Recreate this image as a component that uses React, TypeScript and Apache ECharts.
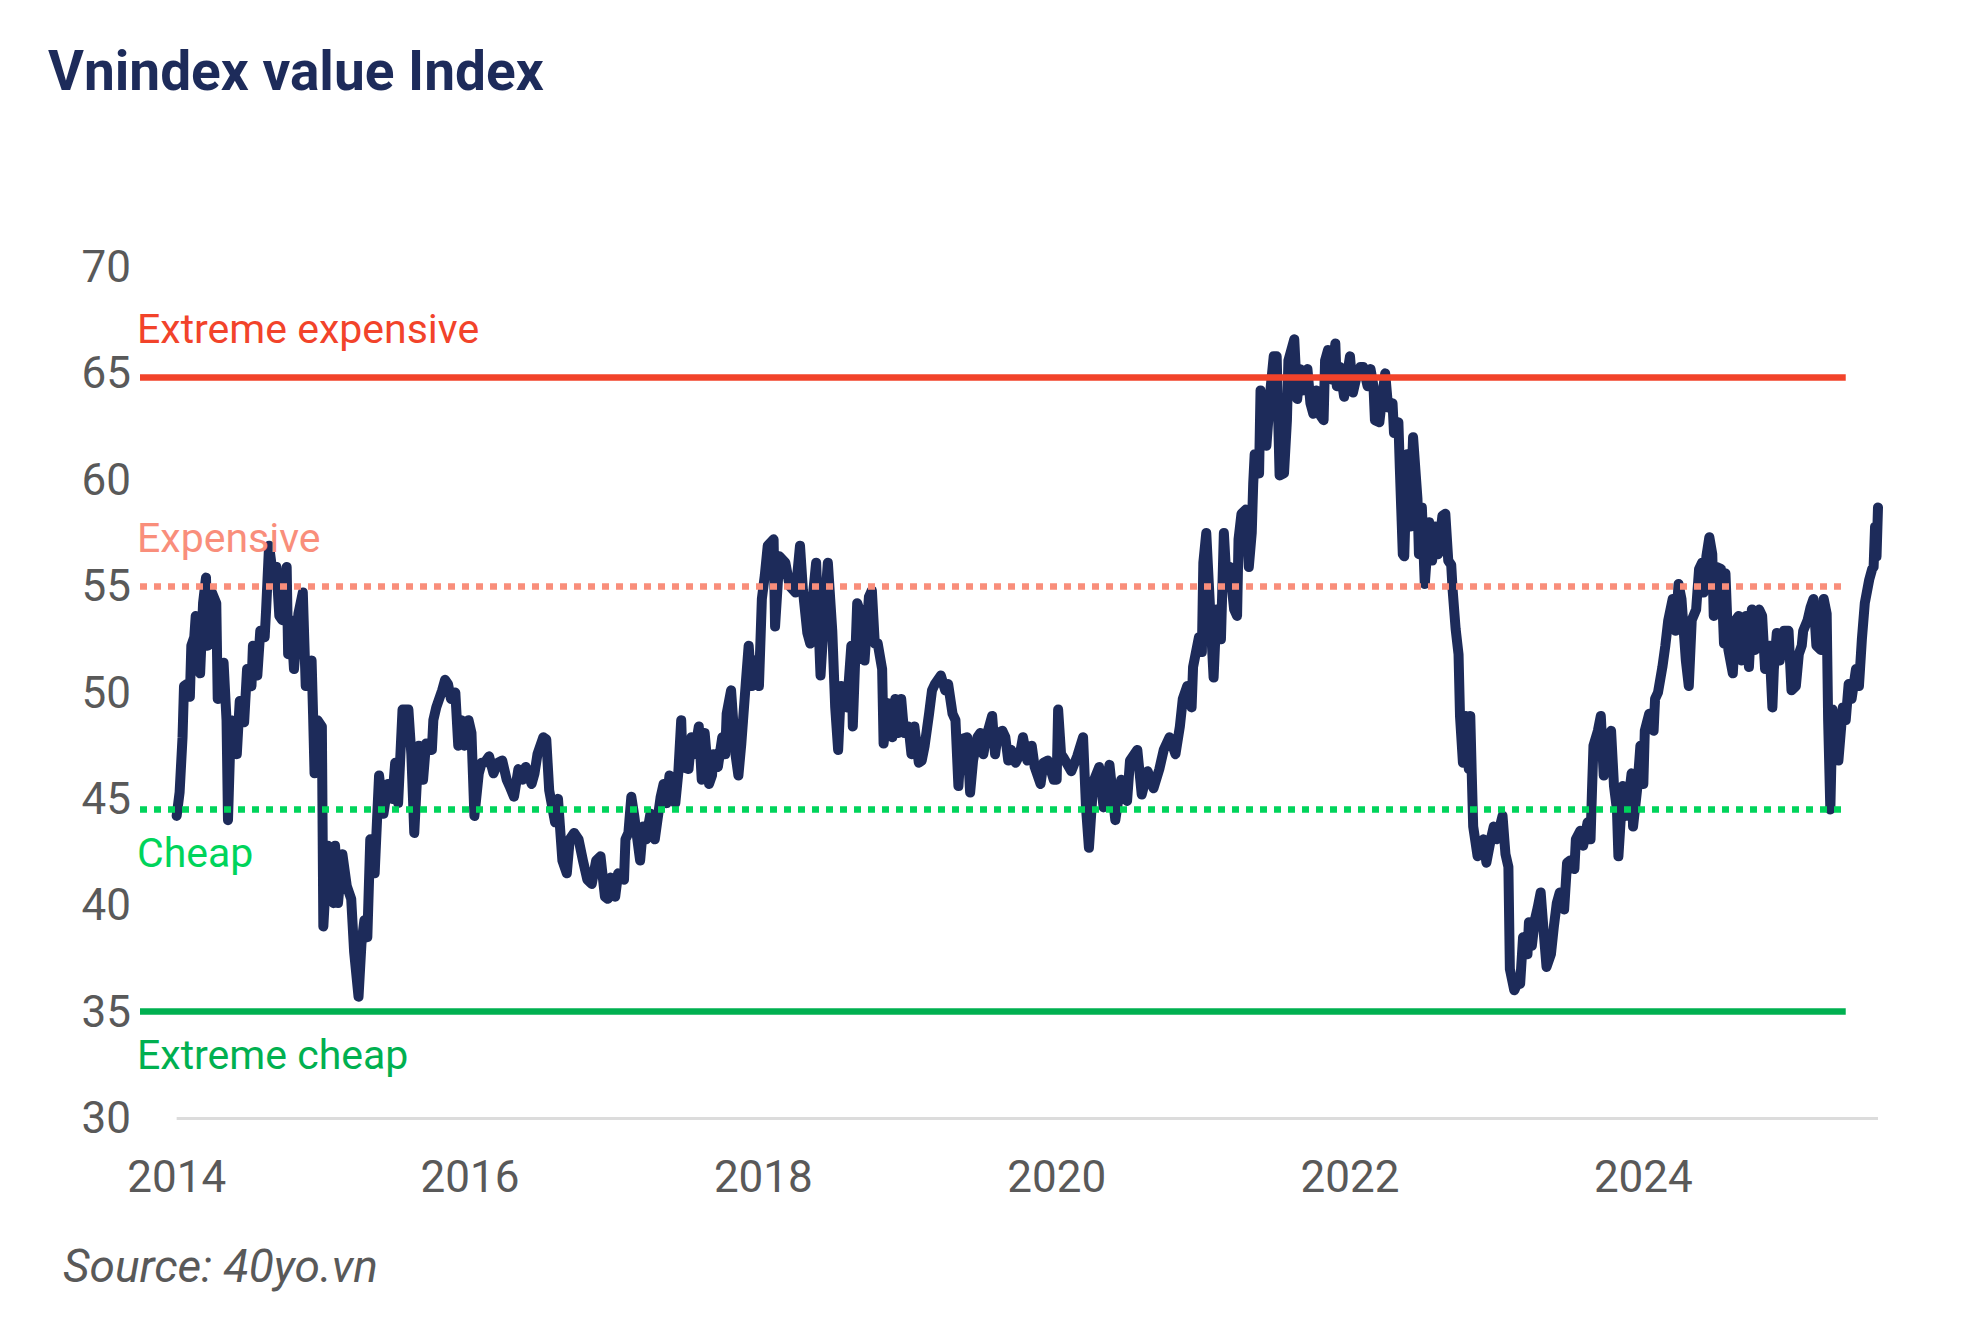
import { useEffect, useRef } from "react";
import * as echarts from "echarts";

type Pt = [number, number];

// Vnindex value index, sampled roughly weekly: [decimal year, index value]
const idx2014_2015: Pt[] = [
  [2014.0, 44.2], [2014.02, 45.3], [2014.04, 47.9], [2014.05, 50.3], [2014.07, 50.4], [2014.09, 49.8],
  [2014.1, 52.2], [2014.12, 52.6], [2014.13, 53.6], [2014.16, 50.9], [2014.18, 54.2], [2014.2, 55.4],
  [2014.21, 52.2], [2014.24, 54.7], [2014.27, 54.2], [2014.28, 49.7], [2014.32, 51.4], [2014.34, 48.7],
  [2014.35, 44.0], [2014.37, 48.7], [2014.41, 47.1], [2014.43, 49.6], [2014.46, 48.6], [2014.48, 51.1],
  [2014.51, 50.3], [2014.52, 52.2], [2014.55, 50.8], [2014.57, 52.9], [2014.6, 52.6], [2014.61, 53.9],
  [2014.63, 56.9], [2014.66, 55.3], [2014.68, 55.9], [2014.7, 53.6], [2014.72, 53.4], [2014.75, 55.9],
  [2014.76, 51.8], [2014.78, 53.4], [2014.8, 51.1], [2014.83, 53.7], [2014.86, 54.7], [2014.88, 50.3],
  [2014.92, 51.5], [2014.93, 49.0], [2014.94, 46.2], [2014.96, 48.7], [2014.99, 48.4], [2015.0, 39.0],
  [2015.03, 42.8], [2015.07, 40.1], [2015.08, 42.8], [2015.1, 40.1], [2015.13, 42.4], [2015.16, 40.9],
  [2015.19, 40.3], [2015.21, 37.8], [2015.24, 35.7], [2015.26, 38.2], [2015.28, 39.3], [2015.3, 38.5],
  [2015.32, 43.1], [2015.35, 41.5], [2015.37, 44.6], [2015.38, 46.1], [2015.41, 44.3], [2015.44, 45.7],
  [2015.47, 45.0], [2015.49, 46.7], [2015.51, 44.8], [2015.54, 49.2], [2015.58, 49.2], [2015.6, 47.1],
  [2015.62, 43.4], [2015.65, 47.5], [2015.68, 45.9], [2015.7, 47.6], [2015.74, 47.3], [2015.75, 48.7],
  [2015.77, 49.3], [2015.81, 50.1], [2015.83, 50.6], [2015.85, 50.4], [2015.87, 49.7], [2015.9, 50.0],
  [2015.92, 47.5], [2015.94, 48.7], [2015.96, 47.5], [2015.99, 48.7],
];

const idx2016_2017: Pt[] = [
  [2016.01, 48.1], [2016.03, 44.2], [2016.06, 46.2], [2016.08, 46.7], [2016.1, 46.7], [2016.13, 47.0],
  [2016.16, 46.2], [2016.19, 46.7], [2016.22, 46.8], [2016.25, 45.9], [2016.27, 45.6], [2016.3, 45.1],
  [2016.33, 46.4], [2016.36, 45.9], [2016.38, 46.5], [2016.42, 45.7], [2016.44, 46.2], [2016.46, 47.1],
  [2016.5, 47.9], [2016.52, 47.8], [2016.54, 45.4], [2016.58, 43.9], [2016.6, 45.0], [2016.63, 42.1],
  [2016.66, 41.5], [2016.68, 43.1], [2016.71, 43.4], [2016.74, 43.1], [2016.77, 42.1], [2016.8, 41.2],
  [2016.83, 41.0], [2016.86, 42.1], [2016.89, 42.3], [2016.92, 40.4], [2016.94, 40.3], [2016.96, 41.3],
  [2016.99, 40.4], [2017.01, 41.5], [2017.05, 41.2], [2017.06, 43.1], [2017.08, 43.4], [2017.1, 45.1],
  [2017.12, 44.2], [2017.16, 42.1], [2017.18, 43.7], [2017.2, 43.1], [2017.23, 44.3], [2017.26, 43.1],
  [2017.3, 45.1], [2017.32, 45.7], [2017.34, 44.8], [2017.36, 46.1], [2017.4, 44.8], [2017.42, 46.2],
  [2017.44, 48.7], [2017.45, 46.5], [2017.49, 46.4], [2017.51, 47.9], [2017.53, 47.1], [2017.56, 48.4],
  [2017.58, 45.9], [2017.6, 48.1], [2017.63, 45.7], [2017.65, 46.1], [2017.66, 47.1], [2017.69, 46.5],
  [2017.72, 47.9], [2017.74, 47.1], [2017.75, 49.0], [2017.78, 50.1], [2017.81, 47.1], [2017.83, 46.1],
  [2017.85, 47.6], [2017.88, 50.4], [2017.9, 52.2], [2017.92, 50.3], [2017.94, 51.5], [2017.97, 50.3],
  [2017.99, 54.4],
];

const idx2018_2019: Pt[] = [
  [2018.01, 55.5], [2018.03, 56.9], [2018.07, 57.2], [2018.08, 53.1], [2018.11, 56.4], [2018.15, 56.1],
  [2018.18, 55.0], [2018.22, 54.7], [2018.25, 56.9], [2018.27, 54.8], [2018.3, 52.8], [2018.32, 52.3],
  [2018.34, 54.7], [2018.36, 56.1], [2018.39, 50.8], [2018.42, 54.2], [2018.44, 56.1], [2018.47, 52.9],
  [2018.49, 49.3], [2018.51, 47.3], [2018.53, 50.3], [2018.57, 49.3], [2018.6, 52.2], [2018.61, 48.4],
  [2018.64, 54.2], [2018.67, 53.6], [2018.69, 51.5], [2018.72, 54.5], [2018.74, 54.8], [2018.76, 52.3],
  [2018.78, 52.3], [2018.81, 51.1], [2018.82, 47.6], [2018.85, 49.5], [2018.88, 47.9], [2018.9, 49.7],
  [2018.92, 48.1], [2018.94, 49.7], [2018.96, 48.1], [2018.99, 48.4], [2019.01, 47.1], [2019.03, 48.4],
  [2019.06, 46.7], [2019.08, 46.8], [2019.1, 47.5], [2019.13, 49.0], [2019.15, 50.1], [2019.17, 50.4],
  [2019.21, 50.8], [2019.24, 50.1], [2019.26, 50.4], [2019.29, 49.0], [2019.31, 48.7], [2019.33, 45.6],
  [2019.35, 47.8], [2019.39, 47.9], [2019.41, 45.3], [2019.43, 46.8], [2019.46, 47.9], [2019.48, 48.1],
  [2019.5, 47.1], [2019.52, 47.9], [2019.56, 48.9], [2019.58, 47.1], [2019.6, 48.1], [2019.63, 48.2],
  [2019.65, 47.9], [2019.67, 46.8], [2019.69, 47.3], [2019.72, 46.7], [2019.75, 47.1], [2019.77, 47.9],
  [2019.8, 46.8], [2019.83, 47.5], [2019.85, 46.5], [2019.89, 45.7], [2019.91, 46.7], [2019.94, 46.8],
  [2019.98, 45.9],
];

const idx2020_2021: Pt[] = [
  [2020.0, 45.9], [2020.01, 49.2], [2020.03, 47.1], [2020.05, 46.9], [2020.1, 46.3], [2020.14, 47.0],
  [2020.18, 47.9], [2020.2, 44.6], [2020.22, 42.7], [2020.25, 45.8], [2020.29, 46.5], [2020.32, 44.6],
  [2020.36, 46.6], [2020.4, 44.0], [2020.44, 45.9], [2020.48, 44.9], [2020.5, 46.8], [2020.55, 47.3],
  [2020.58, 45.2], [2020.62, 46.3], [2020.66, 45.5], [2020.7, 46.4], [2020.73, 47.3], [2020.77, 47.9],
  [2020.81, 47.1], [2020.84, 48.4], [2020.86, 49.7], [2020.89, 50.3], [2020.92, 49.3], [2020.93, 51.2],
  [2020.97, 52.6], [2020.99, 51.9], [2021.0, 56.1], [2021.02, 57.5], [2021.05, 53.4], [2021.07, 50.7],
  [2021.09, 53.9], [2021.12, 52.5], [2021.14, 57.5], [2021.16, 55.0], [2021.18, 55.9], [2021.21, 53.9],
  [2021.23, 53.6], [2021.24, 57.2], [2021.26, 58.4], [2021.29, 58.6], [2021.31, 55.9], [2021.33, 57.5],
  [2021.34, 59.8], [2021.35, 61.2], [2021.38, 60.3], [2021.39, 64.2], [2021.41, 62.8], [2021.43, 61.6],
  [2021.46, 64.4], [2021.48, 65.8], [2021.5, 65.8], [2021.52, 60.2], [2021.55, 60.3], [2021.57, 62.8],
  [2021.58, 65.6], [2021.62, 66.6], [2021.64, 63.8], [2021.66, 65.2], [2021.68, 64.2], [2021.71, 65.2],
  [2021.73, 63.6], [2021.75, 63.1], [2021.77, 64.2], [2021.8, 63.0], [2021.82, 62.8], [2021.83, 65.6],
  [2021.85, 66.1], [2021.88, 64.7], [2021.9, 66.4], [2021.91, 64.4], [2021.93, 65.3], [2021.96, 63.9],
  [2021.98, 64.9],
];

const idx2022_2023: Pt[] = [
  [2022.0, 65.8], [2022.02, 64.1], [2022.05, 65.0], [2022.07, 65.3], [2022.09, 65.3], [2022.12, 64.4],
  [2022.14, 65.2], [2022.16, 64.4], [2022.17, 62.8], [2022.2, 62.7], [2022.22, 63.9], [2022.24, 65.0],
  [2022.26, 63.4], [2022.29, 63.6], [2022.3, 62.2], [2022.33, 62.7], [2022.34, 60.5], [2022.36, 56.5],
  [2022.37, 56.4], [2022.39, 61.2], [2022.41, 57.8], [2022.43, 62.0], [2022.46, 59.1], [2022.47, 56.5],
  [2022.49, 58.7], [2022.51, 55.1], [2022.54, 58.0], [2022.56, 56.2], [2022.58, 57.8], [2022.6, 56.5],
  [2022.63, 58.3], [2022.65, 58.4], [2022.67, 56.2], [2022.69, 56.0], [2022.7, 54.8], [2022.72, 53.0],
  [2022.74, 51.8], [2022.75, 48.9], [2022.77, 46.7], [2022.79, 48.9], [2022.81, 46.4], [2022.82, 48.9],
  [2022.83, 46.2], [2022.84, 43.7], [2022.87, 42.3], [2022.89, 42.4], [2022.91, 43.1], [2022.93, 42.0],
  [2022.96, 43.1], [2022.98, 43.7], [2023.0, 43.1], [2023.04, 44.2], [2023.06, 42.4], [2023.08, 41.8],
  [2023.09, 37.0], [2023.12, 36.0], [2023.14, 36.3], [2023.16, 36.3], [2023.18, 38.5], [2023.21, 37.7],
  [2023.22, 39.2], [2023.24, 38.1], [2023.26, 39.3], [2023.28, 39.9], [2023.3, 40.6], [2023.32, 38.8],
  [2023.34, 37.1], [2023.37, 37.7], [2023.39, 39.0], [2023.41, 40.1], [2023.43, 40.6], [2023.46, 39.8],
  [2023.48, 42.0], [2023.5, 42.1], [2023.53, 41.7], [2023.54, 43.1], [2023.57, 43.5], [2023.59, 42.8],
  [2023.62, 43.9], [2023.64, 43.1], [2023.65, 45.4], [2023.66, 47.5], [2023.69, 48.2], [2023.71, 48.9],
  [2023.73, 46.1], [2023.75, 47.1], [2023.78, 48.2], [2023.8, 45.6], [2023.82, 44.5], [2023.83, 42.3],
  [2023.86, 45.6], [2023.88, 44.2], [2023.9, 45.0], [2023.92, 46.2], [2023.93, 43.7], [2023.96, 45.6],
  [2023.98, 47.5],
];

const idx2024_2025: Pt[] = [
  [2024.0, 45.7], [2024.01, 48.2], [2024.04, 49.0], [2024.07, 48.2], [2024.08, 49.7], [2024.1, 50.0],
  [2024.13, 51.2], [2024.15, 52.2], [2024.17, 53.4], [2024.2, 54.4], [2024.22, 52.9], [2024.24, 55.1],
  [2024.26, 54.4], [2024.29, 51.5], [2024.31, 50.3], [2024.33, 53.4], [2024.36, 53.9], [2024.38, 55.8],
  [2024.4, 56.1], [2024.41, 54.7], [2024.43, 56.4], [2024.45, 57.3], [2024.47, 56.5], [2024.48, 53.6],
  [2024.5, 55.9], [2024.53, 55.8], [2024.55, 52.3], [2024.56, 55.6], [2024.58, 52.0], [2024.61, 50.9],
  [2024.63, 53.4], [2024.65, 53.6], [2024.67, 51.5], [2024.7, 53.6], [2024.72, 51.2], [2024.74, 53.9],
  [2024.76, 52.0], [2024.79, 53.9], [2024.81, 53.6], [2024.83, 51.1], [2024.86, 52.2], [2024.88, 49.3],
  [2024.89, 51.1], [2024.91, 52.8], [2024.93, 51.5], [2024.96, 52.9], [2024.99, 52.9], [2025.01, 50.1],
  [2025.04, 50.3], [2025.06, 51.8], [2025.08, 52.2], [2025.09, 52.9], [2025.12, 53.4], [2025.14, 54.0],
  [2025.16, 54.4], [2025.18, 52.2], [2025.21, 52.0], [2025.23, 54.4], [2025.25, 53.7], [2025.26, 48.7],
  [2025.275, 44.5], [2025.29, 49.2], [2025.31, 48.2], [2025.33, 46.8], [2025.36, 49.3], [2025.38, 48.7],
  [2025.4, 50.4], [2025.42, 49.7], [2025.45, 51.1], [2025.47, 50.3], [2025.49, 52.5], [2025.51, 54.2],
  [2025.54, 55.3], [2025.56, 55.8], [2025.57, 55.9], [2025.58, 57.8], [2025.59, 56.4], [2025.6, 58.7],
];

// Valuation bands
const levelNames = ["Extreme expensive", "Expensive", "Cheap", "Extreme cheap"];
const levelValues = [64.8, 55, 44.5, 35];
const levelColors = ["#f2432a", "#f98e7b", "#00d45b", "#00b050"];
const levelDotted = [false, true, true, false];
const levelLabelAbove = [true, true, false, false];
const levelSpan: [number, number] = [2013.75, 2025.38];

const xTickYears = [2014, 2016, 2018, 2020, 2022, 2024];
const xRange: [number, number] = [2013.75, 2025.6];
const yTicks = { min: 30, max: 70, step: 5 };

const NAVY = "#1d2b5a";
const GREY_TEXT = "#595959";
const FONT = "Roboto, 'Noto Sans', sans-serif";

export default function App() {
  const ref = useRef<HTMLDivElement>(null);

  useEffect(() => {
    document.body.style.margin = "0";
    if (!ref.current) return;
    const chart = echarts.init(ref.current, undefined, { renderer: "svg" });

    const series = [
      ...idx2014_2015,
      ...idx2016_2017,
      ...idx2018_2019,
      ...idx2020_2021,
      ...idx2022_2023,
      ...idx2024_2025,
    ];
    const first = series[0][0];
    const last = series[series.length - 1][0];

    const levelLines = levelNames.map((name, i) => [
      {
        coord: [levelSpan[0], levelValues[i]],
        lineStyle: {
          color: levelColors[i],
          width: 6.5,
          type: levelDotted[i] ? [7, 7] : "solid",
          cap: "butt",
        },
        label: {
          show: true,
          formatter: name,
          position: levelLabelAbove[i] ? "insideStartTop" : "insideStartBottom",
          distance: levelLabelAbove[i] ? [-3, 28] : [-3, 23],
          color: levelColors[i],
          fontSize: 41,
          fontFamily: FONT,
        },
      },
      { coord: [levelSpan[1], levelValues[i]] },
    ]);

    const baseline = [
      {
        coord: [first, yTicks.min],
        lineStyle: { color: "#dcdcdc", width: 3, type: "solid" },
        label: { show: false },
      },
      { coord: [last, yTicks.min] },
    ];

    chart.setOption({
      animation: false,
      backgroundColor: "#ffffff",
      title: [
        {
          text: "Vnindex value Index",
          left: 43,
          top: 38,
          padding: 5,
          textStyle: { color: NAVY, fontSize: 55, fontWeight: "bold", fontFamily: FONT },
        },
        {
          text: "Source: 40yo.vn",
          left: 58,
          top: 1238,
          padding: 5,
          textStyle: { color: GREY_TEXT, fontSize: 46, fontStyle: "italic", fontWeight: "normal", fontFamily: FONT },
        },
      ],
      grid: { left: 140, right: 102, top: 267, bottom: 202, containLabel: false },
      xAxis: {
        type: "value",
        min: xRange[0],
        max: xRange[1],
        axisLine: { show: false },
        axisTick: { show: false },
        splitLine: { show: false },
        axisLabel: {
          customValues: xTickYears,
          formatter: (v: number) => String(Math.round(v)),
          color: GREY_TEXT,
          fontSize: 44,
          fontFamily: FONT,
          margin: 37,
        },
      },
      yAxis: {
        type: "value",
        min: yTicks.min,
        max: yTicks.max,
        interval: yTicks.step,
        axisLine: { show: false },
        axisTick: { show: false },
        splitLine: { show: false },
        axisLabel: { color: GREY_TEXT, fontSize: 44, fontFamily: FONT, margin: 9 },
      },
      series: [
        {
          type: "line",
          name: "Vnindex value Index",
          data: series,
          showSymbol: false,
          symbol: "none",
          lineStyle: { color: NAVY, width: 10, cap: "round", join: "round" },
          markLine: {
            silent: true,
            symbol: ["none", "none"],
            emphasis: { disabled: true },
            data: [baseline, ...levelLines],
          },
        },
      ],
    });

    return () => chart.dispose();
  }, []);

  return <div ref={ref} style={{ width: 1980, height: 1320 }} />;
}
